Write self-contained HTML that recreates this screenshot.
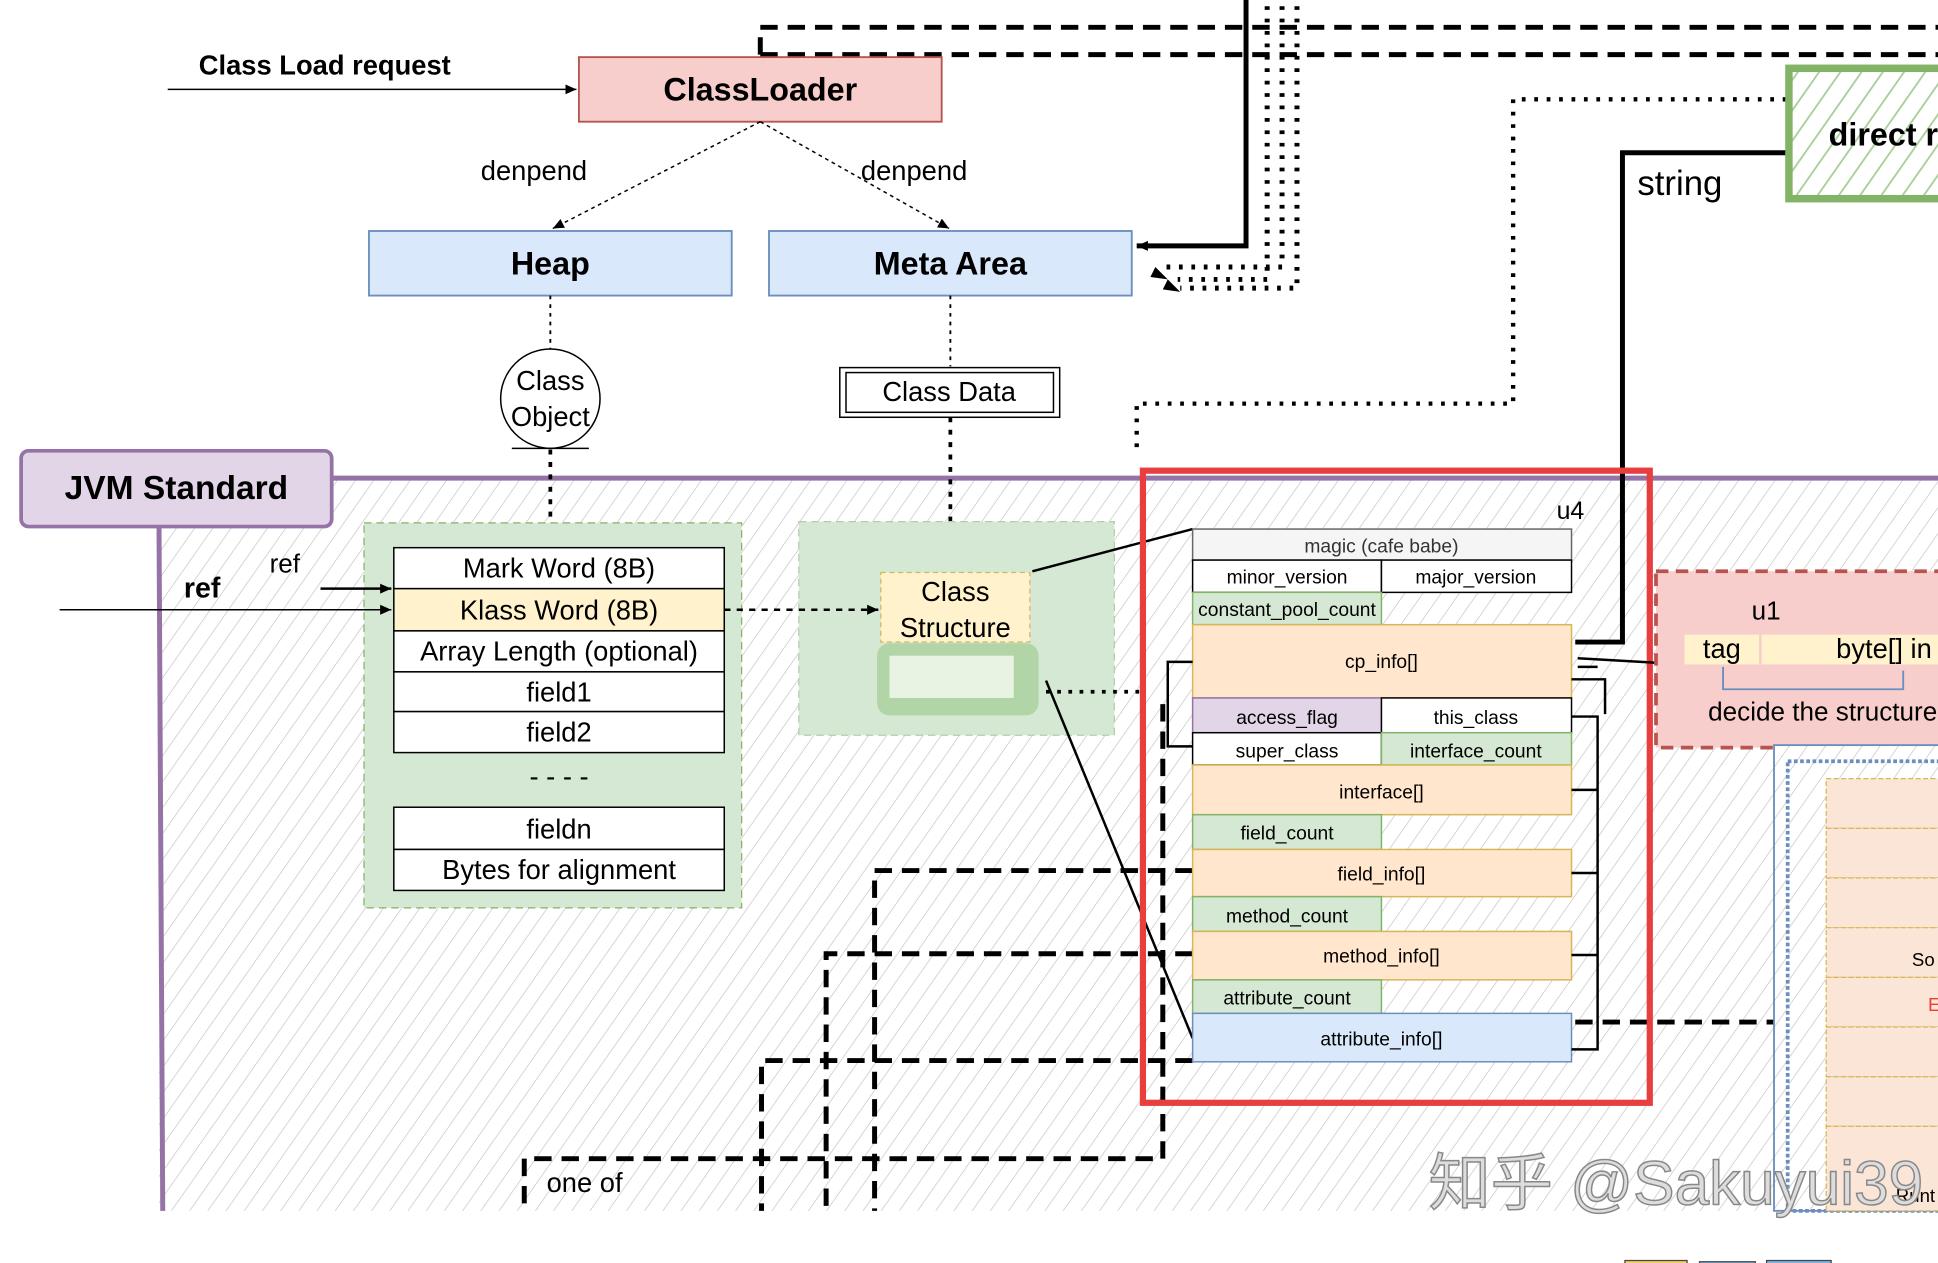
<!DOCTYPE html>
<html><head><meta charset="utf-8"><style>
html,body{margin:0;padding:0;background:#fff;width:1938px;height:1263px;overflow:hidden}
svg{display:block}
text{font-family:"Liberation Sans","Noto Sans CJK SC",sans-serif}
</style></head><body>
<svg width="1938" height="1263" viewBox="0 0 1560 1017" preserveAspectRatio="none" xmlns="http://www.w3.org/2000/svg">
<defs>
<pattern id="h" width="12" height="12" patternUnits="userSpaceOnUse" patternTransform="rotate(35)">
<rect width="12" height="12" fill="#fff"/><line x1="0" y1="0" x2="0" y2="12" stroke="#bdbdbd" stroke-width="1"/>
</pattern>
<pattern id="g" width="14" height="14" patternUnits="userSpaceOnUse" patternTransform="rotate(35)">
<rect width="14" height="14" fill="#fff"/><line x1="0" y1="0" x2="0" y2="14" stroke="#a9cf9a" stroke-width="3"/>
</pattern>
<marker id="a" markerWidth="10" markerHeight="10" refX="9" refY="5" orient="auto" markerUnits="userSpaceOnUse"><path d="M0,1 L9,5 L0,9 Z" fill="#000"/></marker>
</defs>
<rect x="128" y="385" width="1432" height="590" fill="url(#h)"/>
<line x1="268" y1="385" x2="1560" y2="385" stroke="#9673a6" stroke-width="4"/>
<line x1="128" y1="424" x2="131" y2="975" stroke="#9673a6" stroke-width="4"/>
<rect x="17" y="363" width="250" height="61" rx="6" fill="#e1d5e7" stroke="#9673a6" stroke-width="3"/>
<text x="142" y="402" font-size="27" font-weight="bold" text-anchor="middle">JVM Standard</text>

<g fill="none" stroke="#000" stroke-width="4">
<path d="M612,44 V22 H1560" stroke-dasharray="14,8"/>
<path d="M612,44 H1560" stroke-dasharray="14,8"/>
<path d="M1020,5 V225 H948" stroke-dasharray="3,7"/>
<path d="M1032,5 V215 H935" stroke-dasharray="3,7"/>
<path d="M1044,5 V232 H950" stroke-dasharray="3,7"/>
<path d="M915,360 V325 H1218 V80 H1438" stroke-dasharray="3,7" stroke-width="3.5"/>
</g>
<path d="M1003,0 V198 H915" fill="none" stroke="#000" stroke-width="4" marker-end="url(#a)"/>
<path d="M930,215 l10,10 l-14,-2z M940,225 l10,10 l-14,-2z" fill="#000"/>
<path d="M1560,123 H1306 V517 H1268" fill="none" stroke="#000" stroke-width="4"/>
<text x="1318" y="157" font-size="28">string</text>
<rect x="1440" y="55" width="125" height="105" fill="url(#g)" stroke="#82b366" stroke-width="6"/>
<text x="1472" y="117" font-size="26" font-weight="bold">direct r</text>

<text x="160" y="60" font-size="22" font-weight="bold">Class Load request</text>
<line x1="135" y1="72" x2="464" y2="72" stroke="#000" stroke-width="1.2" marker-end="url(#a)"/>
<rect x="466" y="46" width="292" height="52" fill="#f8cecc" stroke="#b85450" stroke-width="1.5"/>
<text x="612" y="81" font-size="26" font-weight="bold" text-anchor="middle">ClassLoader</text>
<g stroke="#000" stroke-width="1.2" stroke-dasharray="3,3" fill="none">
<line x1="612" y1="98" x2="445" y2="184" marker-end="url(#a)"/>
<line x1="612" y1="98" x2="764" y2="184" marker-end="url(#a)"/>
</g>
<text x="387" y="145" font-size="22">denpend</text>
<text x="693" y="145" font-size="22">denpend</text>
<rect x="297" y="186" width="292" height="52" fill="#dae8fc" stroke="#6c8ebf" stroke-width="1.5"/>
<text x="443" y="221" font-size="26" font-weight="bold" text-anchor="middle">Heap</text>
<rect x="619" y="186" width="292" height="52" fill="#dae8fc" stroke="#6c8ebf" stroke-width="1.5"/>
<text x="765" y="221" font-size="26" font-weight="bold" text-anchor="middle">Meta Area</text>
<line x1="443" y1="238" x2="443" y2="281" stroke="#000" stroke-width="1.5" stroke-dasharray="3,4"/>
<circle cx="443" cy="321" r="40" fill="#fff" stroke="#000" stroke-width="1.2"/>
<line x1="412" y1="361" x2="474" y2="361" stroke="#000" stroke-width="1.2"/>
<text x="443" y="314" font-size="22" text-anchor="middle">Class</text>
<text x="443" y="343" font-size="22" text-anchor="middle">Object</text>
<line x1="443" y1="362" x2="443" y2="420" stroke="#000" stroke-width="3" stroke-dasharray="4,6"/>
<line x1="765" y1="238" x2="765" y2="295" stroke="#000" stroke-width="1.5" stroke-dasharray="3,4"/>
<rect x="676" y="296" width="177" height="40" fill="#fff" stroke="#000" stroke-width="1.2"/>
<rect x="681" y="300" width="167" height="32" fill="none" stroke="#000" stroke-width="1.2"/>
<text x="764" y="323" font-size="22" text-anchor="middle">Class Data</text>
<line x1="765" y1="336" x2="765" y2="420" stroke="#000" stroke-width="3" stroke-dasharray="4,6"/>

<rect x="293" y="421" width="304" height="310" fill="#d5e8d4" stroke="#82b366" stroke-dasharray="6,4"/>
<g stroke="#000" stroke-width="1.2">
<rect x="317" y="441" width="266" height="33" fill="#fff"/>
<rect x="317" y="474" width="266" height="34" fill="#fff2cc"/>
<rect x="317" y="508" width="266" height="33" fill="#fff"/>
<rect x="317" y="541" width="266" height="32" fill="#fff"/>
<rect x="317" y="573" width="266" height="33" fill="#fff"/>
<rect x="317" y="650" width="266" height="34" fill="#fff"/>
<rect x="317" y="684" width="266" height="33" fill="#fff"/>
</g>
<g font-size="22" text-anchor="middle">
<text x="450" y="465">Mark Word (8B)</text>
<text x="450" y="499">Klass Word (8B)</text>
<text x="450" y="532">Array Length (optional)</text>
<text x="450" y="565">field1</text>
<text x="450" y="597">field2</text>
<text x="450" y="633">- - - -</text>
<text x="450" y="675">fieldn</text>
<text x="450" y="708">Bytes for alignment</text>
</g>
<text x="148" y="481" font-size="23" font-weight="bold">ref</text>
<text x="217" y="461" font-size="21">ref</text>
<line x1="48" y1="491" x2="315" y2="491" stroke="#000" stroke-width="1.2" marker-end="url(#a)"/>
<line x1="258" y1="474" x2="315" y2="474" stroke="#000" stroke-width="2" marker-end="url(#a)"/>

<rect x="643" y="420" width="254" height="172" fill="#d5e8d4" stroke="#b0d0a6" stroke-dasharray="6,4"/>
<line x1="583" y1="491" x2="707" y2="491" stroke="#000" stroke-width="2" stroke-dasharray="5,5" marker-end="url(#a)"/>
<rect x="709" y="461" width="120" height="56" fill="#fff2cc" stroke="#d6b656" stroke-dasharray="4,3"/>
<text x="769" y="484" font-size="22" text-anchor="middle">Class</text>
<text x="769" y="513" font-size="22" text-anchor="middle">Structure</text>
<rect x="706" y="518" width="130" height="58" rx="10" fill="#a8d09a" opacity="0.8"/>
<rect x="716" y="528" width="100" height="34" fill="#e8f3e3"/>
<line x1="831" y1="460" x2="960" y2="426" stroke="#000" stroke-width="2"/>
<line x1="842" y1="548" x2="960" y2="836" stroke="#000" stroke-width="2"/>
<line x1="842" y1="557" x2="918" y2="557" stroke="#000" stroke-width="3" stroke-dasharray="3,6"/>

<g fill="none" stroke="#000" stroke-width="4" stroke-dasharray="14,8">
<path d="M960,701 H704 V975"/>
<path d="M960,768 H665 V975"/>
<path d="M960,854 H613 V975"/>
<path d="M936,567 V933 H422 V975"/>
<path d="M1268,823 H1428"/>
</g>
<text x="440" y="960" font-size="22">one of</text>

<rect x="920" y="379" width="408" height="509" fill="none" stroke="#e83e3e" stroke-width="5"/>
<text x="1253" y="418" font-size="20">u4</text>
<g stroke-width="1.2" font-size="15.5" text-anchor="middle">
<rect x="960" y="426" width="305" height="25" fill="#f5f5f5" stroke="#666"/>
<text x="1112" y="445" fill="#333">magic (cafe babe)</text>
<rect x="960" y="451" width="152" height="26" fill="#fff" stroke="#000"/>
<rect x="1112" y="451" width="153" height="26" fill="#fff" stroke="#000"/>
<text x="1036" y="470">minor_version</text><text x="1188" y="470">major_version</text>
<rect x="960" y="477" width="152" height="26" fill="#d5e8d4" stroke="#82b366"/>
<text x="1036" y="496">constant_pool_count</text>
<rect x="960" y="503" width="305" height="59" fill="#ffe6cc" stroke="#d6b656"/>
<text x="1112" y="538">cp_info[]</text>
<rect x="960" y="562" width="152" height="28" fill="#e1d5e7" stroke="#9673a6"/>
<rect x="1112" y="562" width="153" height="28" fill="#fff" stroke="#000"/>
<text x="1036" y="583">access_flag</text><text x="1188" y="583">this_class</text>
<rect x="960" y="590" width="152" height="26" fill="#fff" stroke="#000"/>
<rect x="1112" y="590" width="153" height="26" fill="#d5e8d4" stroke="#82b366"/>
<text x="1036" y="610">super_class</text><text x="1188" y="610">interface_count</text>
<rect x="960" y="616" width="305" height="40" fill="#ffe6cc" stroke="#d6b656"/>
<text x="1112" y="643">interface[]</text>
<rect x="960" y="656" width="152" height="28" fill="#d5e8d4" stroke="#82b366"/>
<text x="1036" y="676">field_count</text>
<rect x="960" y="684" width="305" height="38" fill="#ffe6cc" stroke="#d6b656"/>
<text x="1112" y="709">field_info[]</text>
<rect x="960" y="722" width="152" height="28" fill="#d5e8d4" stroke="#82b366"/>
<text x="1036" y="743">method_count</text>
<rect x="960" y="750" width="305" height="39" fill="#ffe6cc" stroke="#d6b656"/>
<text x="1112" y="775">method_info[]</text>
<rect x="960" y="789" width="152" height="27" fill="#d5e8d4" stroke="#82b366"/>
<text x="1036" y="809">attribute_count</text>
<rect x="960" y="816" width="305" height="39" fill="#dae8fc" stroke="#6c8ebf"/>
<text x="1112" y="842">attribute_info[]</text>
</g>
<g fill="none" stroke="#000" stroke-width="2">
<path d="M1265,577 H1286 V845 H1265 M1265,636 H1286 M1265,703 H1286 M1265,769 H1286 M1286,537 H1270"/>
<path d="M1265,547 H1292 V575"/>
<path d="M960,533 H940 V601 H960"/>
<line x1="1356" y1="535" x2="1270" y2="530"/>
</g>
<rect x="1333" y="460" width="240" height="142" fill="#f8cecc" stroke="#b85450" stroke-width="3" stroke-dasharray="10,6"/>
<text x="1410" y="499" font-size="21">u1</text>
<rect x="1356" y="511" width="60" height="24" fill="#fff2cc"/>
<rect x="1418" y="511" width="150" height="24" fill="#fff2cc"/>
<text x="1386" y="530" font-size="22" text-anchor="middle">tag</text>
<text x="1478" y="530" font-size="22">byte[] in</text>
<path d="M1387,537 V555 H1532 V540" fill="none" stroke="#6c8ebf" stroke-width="1.5"/>
<text x="1375" y="580" font-size="21">decide the structure</text>
<rect x="1428" y="600" width="140" height="375" fill="url(#h)" stroke="#6c8ebf" stroke-width="1.5"/>
<rect x="1439" y="613" width="130" height="362" fill="none" stroke="#6c8ebf" stroke-width="3" stroke-dasharray="3,2"/>
<g fill="#fbe5d6" stroke="#d6b656" stroke-dasharray="4,2">
<rect x="1470" y="627" width="95" height="40"/><rect x="1470" y="667" width="95" height="40"/>
<rect x="1470" y="707" width="95" height="40"/><rect x="1470" y="747" width="95" height="40"/>
<rect x="1470" y="787" width="95" height="40"/><rect x="1470" y="827" width="95" height="40"/>
<rect x="1470" y="867" width="95" height="40"/><rect x="1470" y="907" width="95" height="68"/>
</g>
<text x="1539" y="778" font-size="15">So</text>
<text x="1552" y="814" font-size="15" fill="#e83e3e">E</text>
<text x="1526" y="968" font-size="15">Runt</text>
<text x="1150" y="970" font-size="50" fill="#ddd" stroke="#888" stroke-width="1.2">知乎 @Sakuyui39</text>
<rect x="1308" y="1015" width="50" height="8" fill="#f0d060" stroke="#444"/>
<rect x="1368" y="1016" width="45" height="7" fill="#7fb3e0" stroke="#444"/>
<rect x="1422" y="1015" width="52" height="8" fill="#7fb3e0" stroke="#444"/>
</svg>
</body></html>
